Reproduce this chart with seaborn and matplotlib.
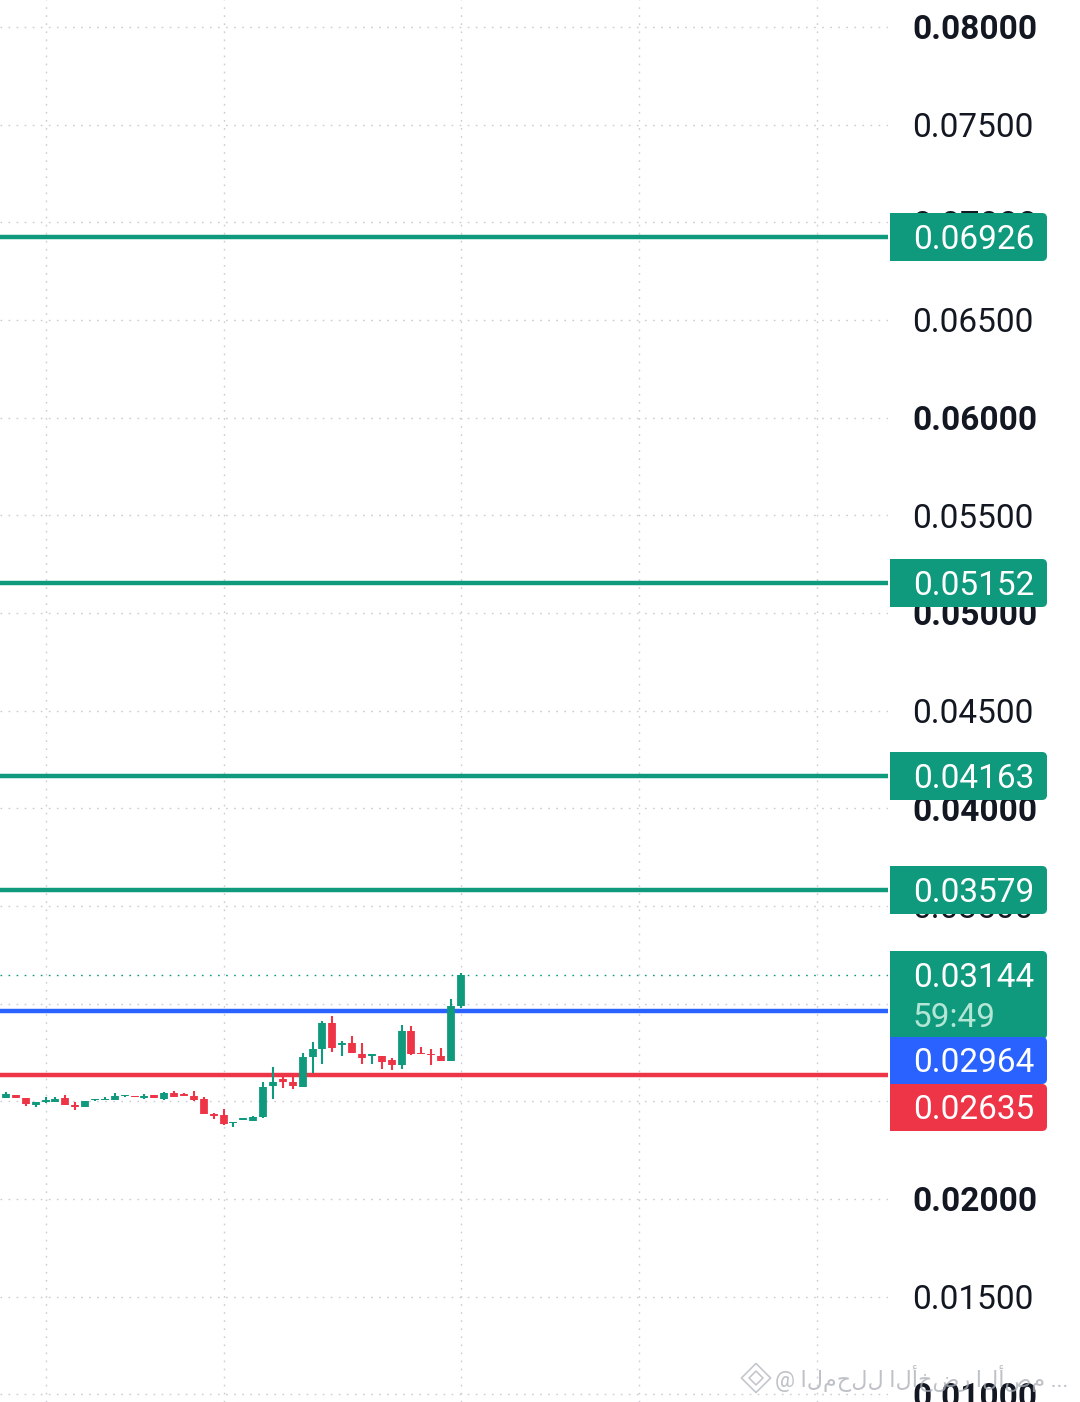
import pandas as pd
import matplotlib.pyplot as plt
import seaborn as sns
from matplotlib.patches import FancyBboxPatch, Rectangle

# Dados
opens = [.02514,.02533,.02518,.02480,.02496,.02496,.02514,.02480,.02470,.02506,
         .02508,.02504,.02526,.02528,.02518,.02533,.02509,.02542,.02535,.02525,
         .02513,.02434,.02431,.02386,.02405,.02398,.02419,.02577,.02612,.02600,
         .02574,.02726,.02769,.02898,.02789,.02796,.02743,.02733,.02733,.02711,
         .02683,.02857,.02748,.02743,.02733,.02706,.02989]
highs = [.02545,.02533,.02518,.02497,.02520,.02520,.02530,.02494,.02502,.02513,
         .02520,.02542,.02533,.02528,.02535,.02533,.02545,.02550,.02542,.02554,
         .02523,.02441,.02462,.02393,.02412,.02426,.02596,.02676,.02634,.02625,
         .02748,.02805,.02910,.02938,.02808,.02834,.02799,.02740,.02733,.02720,
         .02892,.02885,.02776,.02765,.02770,.03021,.03158]
lows = [.02514,.02516,.02475,.02472,.02489,.02496,.02482,.02455,.02470,.02502,
        .02504,.02504,.02520,.02521,.02509,.02514,.02506,.02521,.02525,.02502,
        .02434,.02409,.02376,.02369,.02405,.02398,.02414,.02513,.02567,.02565,
        .02574,.02642,.02690,.02750,.02731,.02745,.02690,.02690,.02663,.02659,
        .02665,.02735,.02740,.02683,.02706,.02706,.02975]
closes = [.02535,.02516,.02487,.02497,.02506,.02513,.02482,.02468,.02502,.02513,
          .02513,.02526,.02533,.02521,.02528,.02514,.02540,.02521,.02528,.02506,
          .02434,.02424,.02383,.02393,.02412,.02421,.02571,.02600,.02598,.02576,
          .02728,.02765,.02898,.02775,.02799,.02748,.02722,.02740,.02702,.02685,
          .02861,.02741,.02741,.02736,.02706,.02989,.03144]

axis_prices = [.080,.075,.070,.065,.060,.055,.050,.045,.040,.035,.030,.025,.020,.015,.010]
bold_prices = [.080,.070,.060,.050,.040,.030,.020,.010]
grid_x = [4, 22, 46, 64, 82]
green_levels = [.06926, .05152, .04163, .03579]
blue_level = .02964
red_level = .02635
last_price = .03144
countdown = "59:49"
watermark = "@ المحلل الأخضر الأصم ..."

GREEN = "#0f997d"
RED = "#ee3548"
BLUE = "#2962ff"

sns.set_theme(style="white")
plt.rcParams["font.family"] = ["Roboto", "DejaVu Sans"]
plt.rcParams["lines.solid_capstyle"] = "butt"

fig = plt.figure(figsize=(10.8, 14.02), dpi=100)
ax = fig.add_axes([0, 0, 888 / 1080, 1])
ax.set_xlim(-6 / 9.89, 882 / 9.89)
ax.set_ylim(0.0096, 0.081382)
ax.set_axisbelow(True)

# Velas
rows_wick = []
rows_body = []
for i, (o, h, l, c) in enumerate(zip(opens, highs, lows, closes)):
    d = "up" if c >= o else "down"
    rows_wick += [{"i": i, "price": h, "dir": d}, {"i": i, "price": l, "dir": d}]
    rows_body += [{"i": i, "price": o, "dir": d}, {"i": i, "price": c, "dir": d}]
wicks = pd.DataFrame(rows_wick)
bodies = pd.DataFrame(rows_body)
wicks["u"] = wicks["i"]
bodies["u"] = bodies["i"]
pal = {"up": GREEN, "down": RED}
sns.lineplot(data=wicks, x="i", y="price", hue="dir", units="u", estimator=None, palette=pal,
             legend=False, linewidth=1.5, ax=ax, zorder=4, solid_capstyle="butt")
sns.lineplot(data=bodies, x="i", y="price", hue="dir", units="u", estimator=None, palette=pal,
             legend=False, linewidth=5.6, ax=ax, zorder=4, solid_capstyle="butt")
ax.set_xlabel("")
ax.set_ylabel("")

# Grade
ax.set_xticks(grid_x)
ax.set_xticklabels([])
ax.set_yticks(axis_prices)
ax.grid(True, color="#c9ccd2", linewidth=1.0, linestyle=(0, (1.2, 4.6)))
ax.tick_params(axis="x", length=0)
ax.tick_params(axis="y", length=0, pad=17.6, labelsize=24, labelcolor="#131722",
               left=False, labelleft=False, right=False, labelright=True)
ax.set_yticklabels([f"{p:.5f}" for p in axis_prices])
for p, lab in zip(axis_prices, ax.get_yticklabels()):
    lab.set_fontweight("bold" if p in bold_prices else "normal")
for s in ax.spines.values():
    s.set_visible(False)

# Linhas de preco
for lvl in green_levels:
    ax.axhline(lvl, color=GREEN, linewidth=3.2, zorder=3)
ax.axhline(blue_level, color=BLUE, linewidth=3.2, zorder=3)
ax.axhline(red_level, color=RED, linewidth=3.2, zorder=3)
ax.axhline(last_price, color=GREEN, linewidth=1.0, linestyle=(0, (1.2, 4.6)), zorder=3)


def tag(top, bottom, color, text, text_y=None):
    # caixa em pixels, cantos arredondados so na direita
    y0 = 1402 - bottom
    h = bottom - top
    ax.add_artist(FancyBboxPatch((896, y0 + 5), 146, h - 10, boxstyle="round,pad=5",
                                 facecolor=color, edgecolor="none", transform=None,
                                 clip_on=False, zorder=10))
    ax.add_artist(Rectangle((890, y0), 40, h, facecolor=color, edgecolor="none", transform=None,
                            clip_on=False, zorder=10))
    yc = (top + bottom) / 2 - 0.7 if text_y is None else text_y
    ax.text(913, 1402 - yc, text, color="white", fontsize=24, va="center_baseline", ha="left",
            transform=None, clip_on=False, zorder=11)


for lvl, (t, b) in zip(green_levels, [(213, 261), (559, 607), (752, 800), (866, 914)]):
    tag(t, b, GREEN, f"{lvl:.5f}")
tag(951, 1039, GREEN, f"{last_price:.5f}", text_y=974.5)
ax.text(913, 1402 - 1014.5, countdown, color="#b4e6d6", fontsize=24, va="center_baseline",
        transform=None, clip_on=False, zorder=11)
tag(1037, 1084, BLUE, f"{blue_level:.5f}")
tag(1084, 1131, RED, f"{red_level:.5f}")

# Marca d'agua
ax.text(775, 1402 - 1378, watermark, color="#a9adb5", alpha=0.75, fontsize=16, va="center",
        ha="left", transform=None, clip_on=False, zorder=12)
for size, lw in [(220, 1.2), (50, 1.2)]:
    ax.scatter([756], [1402 - 1378], s=size, marker="D", facecolor="none", edgecolor="#c4c7cc",
               linewidth=lw, transform=None, clip_on=False, zorder=12)

fig.savefig("out.png", dpi=100)
